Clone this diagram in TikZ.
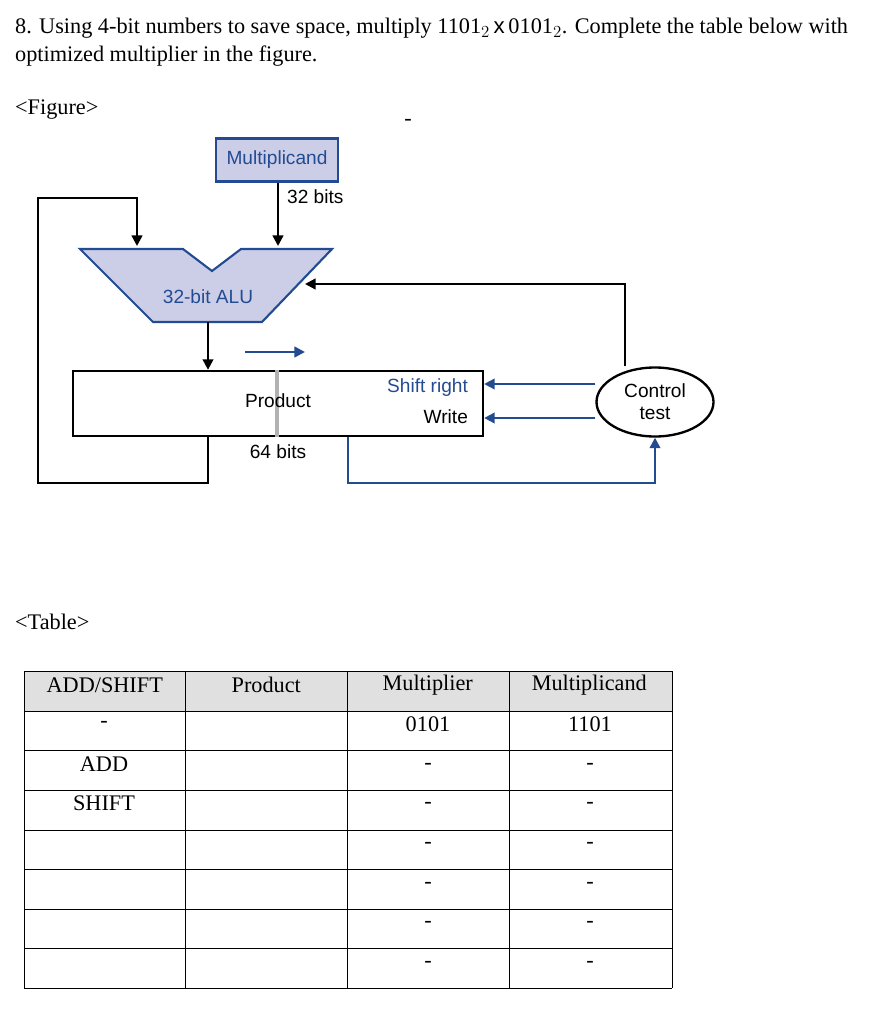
\documentclass[tikz,border=0pt]{standalone}
\usepackage{fontspec}
\setmainfont{Liberation Serif}
\newfontfamily\figfont{Liberation Sans}
\usetikzlibrary{arrows.meta,shapes.geometric}
\definecolor{figblue}{RGB}{35,75,145}
\definecolor{figfill}{RGB}{204,206,232}
\definecolor{headgray}{RGB}{224,224,224}
\tikzset{
  txt/.style={font=\fontsize{19}{22}\selectfont},
  lbl/.style={font=\figfont\fontsize{16.3}{19}\selectfont},
  wire/.style={line width=2pt,-{Triangle[length=9pt,width=9pt]}},
  bwire/.style={wire,draw=figblue,color=figblue},
  cell/.style={font=\fontsize{19}{22}\selectfont}
}
\begin{document}
\begin{tikzpicture}[x=0.03cm,y=-0.03cm]
  \useasboundingbox (0,0) rectangle (874,1018);
  \node[txt,anchor=west] (title1) at (11,28) {8. Using 4-bit numbers to save space, multiply 1101$_2$\,{\figfont x}\,0101$_2$. Complete the table below with};
  \node[txt,anchor=west] (title2) at (11,56) {optimized multiplier in the figure.};
  \node[txt,anchor=west] (figlabel) at (11,110) {<Figure>};
  \node[txt] (dash) at (408,122) {-};
  \node[txt,anchor=west] (tablabel) at (11,622) {<Table>};

  % datapath
  \node[draw=figblue,line width=1.8pt,fill=figfill,minimum width=122*0.03cm,minimum height=43*0.03cm,lbl,text=figblue] (mcand) at (277,160) {Multiplicand};
  \draw[draw=figblue,line width=1.8pt,fill=figfill] (80,249) -- (183,249) -- (212,271) -- (241,249) -- (332,249) -- (262,322) -- (153,322) -- cycle;
  \node[lbl,text=figblue] (alu) at (208,297) {32-bit ALU};
  \node[draw,line width=2pt,minimum width=410*0.03cm,minimum height=65*0.03cm] (prod) at (278,403.5) {};
  \draw[gray!60,line width=3.5pt] (prod.north -| 277,0) -- (prod.south -| 277,0);
  \node[lbl] (prodtxt) at (278,401) {Product};
  \node[lbl,text=figblue,anchor=east] (shift) at (472,388) {Shift right};
  \node[lbl,anchor=east] (write) at (472,417) {Write};
  \node[draw,ellipse,line width=2pt,minimum width=117*0.03cm,minimum height=69*0.03cm,lbl,align=center,inner sep=0pt] (ctrl) at (655,402) {Control\\test};
  \node[lbl,anchor=west] (w32) at (283,197) {32 bits};
  \node[lbl] (w64) at (278,452) {64 bits};

  \coordinate (aluL) at (137,246);
  \coordinate (aluR) at (278,246);
  \coordinate (aluC) at (305,284);
  \coordinate (aluO) at (208,322);
  \draw[wire] (mcand.south -| aluR) -- (aluR);
  \draw[wire] (prod.south -| 208,0) -- (208,483) -- (38,483) -- (38,198) -- (137,198) -- (aluL);
  \draw[wire] (ctrl.north -| 625,0) -- (625,284) -- (aluC);
  \draw[wire] (aluO) -- (prod.north -| aluO);
  \coordinate (sa) at (245,352);
  \coordinate (sb) at (305,352);
  \draw[bwire] (sa) -- (sb);
  \draw[bwire] (ctrl.west |- 0,384) -- (prod.east |- 0,384);
  \draw[bwire] (ctrl.west |- 0,418) -- (prod.east |- 0,418);
  \draw[bwire] (prod.south -| 348,0) -- (348,483) -- (655,483) -- (ctrl.south);

  % table
  \fill[headgray] (24,671) rectangle (672,711);
  \foreach \y in {671,711,750,790,830,869,909,948,988}
    \draw[line width=0.8pt] (24,\y) -- (672,\y);
  \foreach \x in {24,185,347,509,672}
    \draw[line width=0.8pt] (\x,671) -- (\x,988);
  \foreach \t [count=\i] in {ADD/SHIFT,Product,Multiplier,Multiplicand}
    \node[cell] (head\i) at ({24+161.5*(\i-0.5)},685) {\t};
  \node[cell] (r1c1) at (104,724) {-};
  \node[cell] (r1c3) at (428,724) {0101};
  \node[cell] (r1c4) at (590,724) {1101};
  \node[cell] (r2c1) at (104,764) {ADD};
  \node[cell] (r3c1) at (104,803) {SHIFT};
  \foreach \y [count=\r from 2] in {764,803,843,883,922,962}{
    \node[cell] (r\r-c3) at (428,\y+2) {-};
    \node[cell] (r\r-c4) at (590,\y+2) {-};
  }
\end{tikzpicture}
\end{document}
